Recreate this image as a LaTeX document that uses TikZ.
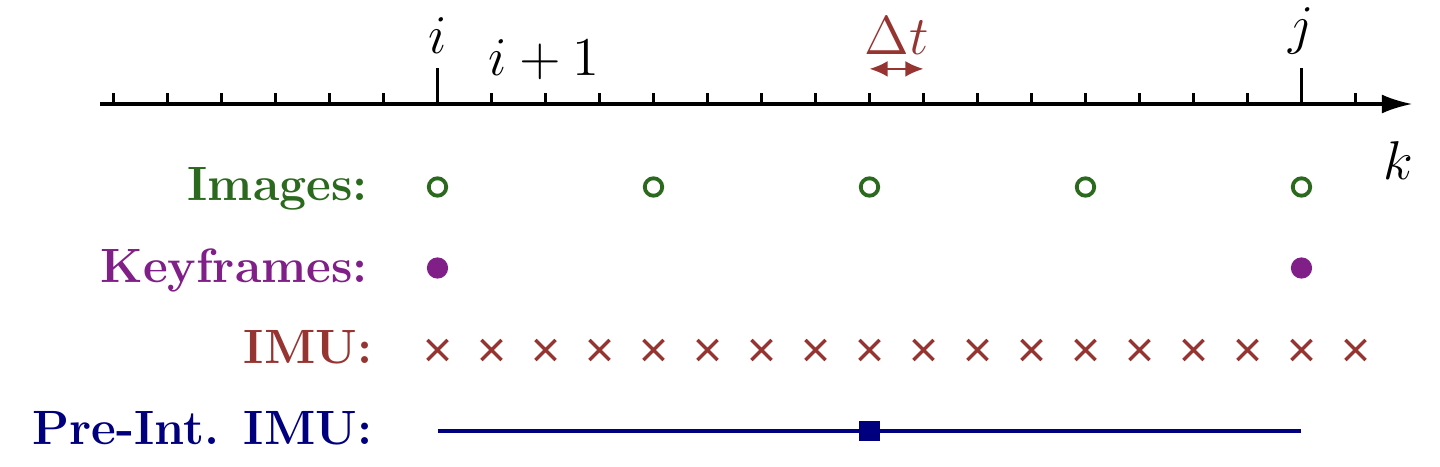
\documentclass[tikz,border=0pt]{standalone}
\usepackage{amsmath, amssymb}
\usetikzlibrary{arrows.meta,positioning}
\usetikzlibrary{shapes.misc}
\definecolor{imgcol}{HTML}{2B6A1E}
\definecolor{kfcol}{HTML}{801F88}
\definecolor{imucol}{HTML}{963432}
\definecolor{precol}{HTML}{00007F}

\begin{document}
\begin{tikzpicture}[x=0.5cm, y=0.5cm, line width=0.8pt,
	rowlbl/.style={anchor=base east, inner sep=0pt, font=\fontsize{12.7}{15}\selectfont\bfseries},
	imgmark/.style={circle, draw=imgcol, line width=1pt, inner sep=0pt, minimum size=4.6pt},
	kfmark/.style={circle, fill=kfcol, inner sep=0pt, minimum size=5.6pt},
	imumark/.style={cross out, draw=imucol, line width=0.9pt, inner sep=0pt, minimum size=4.4pt},
	premark/.style={rectangle, fill=precol, inner sep=0pt, minimum size=5.3pt}]
	%% the page: same proportions as the reference
	\useasboundingbox (-2.102,1.926) rectangle (24.565,-6.722);

	%% time axis k with one tick per IMU sample
	\coordinate (axstart) at (-0.25,0);
	\coordinate (axend) at (24.05,0);
	\draw[-{Latex[length=8pt,width=5pt]}] (axstart) -- (axend);
	\foreach \n in {0,...,23}
		\draw (\n,0) -- (\n,0.2);
	%% the two keyframe ticks are longer
	\draw (6,0) -- (6,0.67) node[above, font=\Large] (lbli) {$i$};
	\draw (22,0) -- (22,0.67) node[above, font=\Large] (lblj) {$j$};
	\node[anchor=base west, inner sep=0pt, font=\Large] (lblnext) at (6.92,0.52) {$i+1$};
	\node[font=\Large] (lblk) at (23.8,-1.04) {$k$};

	%% sampling period
	\coordinate (dtl) at (14,0.65);
	\coordinate (dtr) at (15,0.65);
	\draw[imucol, line width=0.6pt, {Latex[length=4.8pt,width=4.2pt]}-{Latex[length=4.8pt,width=4.2pt]}] (dtl) -- (dtr);
	\node[imucol, anchor=base, font=\Large] (lbldt) at (14.5,0.92) {$\Delta t$};

	%% row labels
	\node[rowlbl, imgcol] (lblimg) at (4.74,-1.79) {Images:};
	\node[rowlbl, kfcol] (lblkf) at (4.74,-3.30) {Keyframes:};
	\node[rowlbl, imucol] (lblimu) at (4.82,-4.80) {IMU:};
	\node[rowlbl, precol] (lblpre) at (4.82,-6.31) {Pre-Int. IMU:};

	%% images every fourth sample
	\foreach \n in {6,10,14,18,22}
		\node[imgmark] (img\n) at (\n,-1.537) {};
	%% keyframes at i and j
	\node[kfmark] (kfi) at (6,-3.037) {};
	\node[kfmark] (kfj) at (22,-3.037) {};
	%% IMU measurements at every tick
	\foreach \n in {6,...,23}
		\node[imumark] (imu\n) at (\n,-4.556) {};
	%% preintegrated IMU between the keyframes
	\coordinate (prei) at (6,-6.056);
	\coordinate (prej) at (22,-6.056);
	\draw[precol, line width=1pt] (prei) -- (prej);
	\node[premark] (premid) at (14,-6.056) {};
\end{tikzpicture}
\end{document}
